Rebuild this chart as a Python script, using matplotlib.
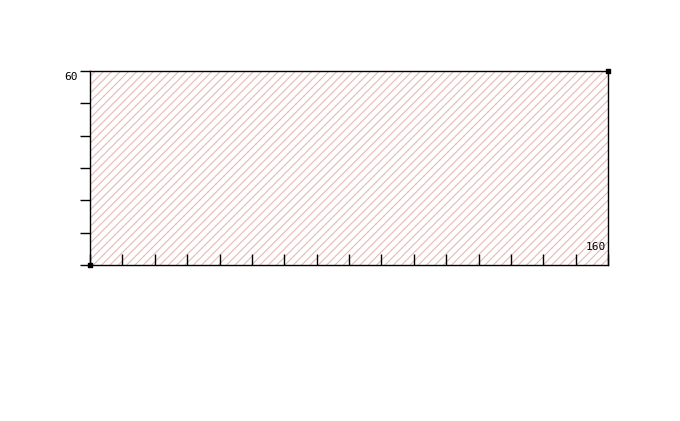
import matplotlib
matplotlib.use("Agg")
import matplotlib.pyplot as plt
from matplotlib.patches import Rectangle
from matplotlib.transforms import ScaledTranslation

x_vals = [0, 160]
y_vals = [0, 60]
x_ticks = list(range(0, 161, 10))
y_ticks = list(range(0, 61, 10))

plt.rcParams['hatch.color'] = '#e6b8b8'
plt.rcParams['hatch.linewidth'] = 0.8

fig = plt.figure(figsize=(6.8, 4.21), dpi=100)
ax = fig.add_axes([90/680, 1-265/421, (608-90)/680, (265-71)/421])
ax.set_xlim(x_vals[0], x_vals[1])
ax.set_ylim(y_vals[0], y_vals[1])

ax.add_patch(Rectangle((0, 0), 1, 1, transform=ax.transAxes, facecolor='white',
                       edgecolor='#e6b8b8', hatch='////', linewidth=0, zorder=0))

ax.scatter(x_vals, y_vals, s=6, marker='s', color='black', zorder=5, clip_on=False)

for s in ax.spines.values():
    s.set_linewidth(1.0)
    s.set_color('black')

ax.set_yticks(y_ticks)
ax.set_yticklabels([''] * len(y_ticks))
ax.tick_params(axis='y', direction='out', length=7, width=1)
ax.set_xticks(x_ticks)
ax.set_xticklabels([''] * len(x_ticks))
ax.tick_params(axis='x', direction='in', length=8, width=1)

def px(dx, dy):
    return ax.transData + ScaledTranslation(dx / 100, dy / 100, fig.dpi_scale_trans)

ax.text(x_vals[0], y_vals[1], str(y_vals[1]), ha='right', va='center', fontsize=8,
        family='DejaVu Sans Mono', color='black', transform=px(-12, -6))
ax.text(x_vals[1], y_vals[0], str(x_vals[1]), ha='right', va='center', fontsize=8,
        family='DejaVu Sans Mono', color='black', transform=px(-2, 18))

fig.savefig('out.png', dpi=100)
